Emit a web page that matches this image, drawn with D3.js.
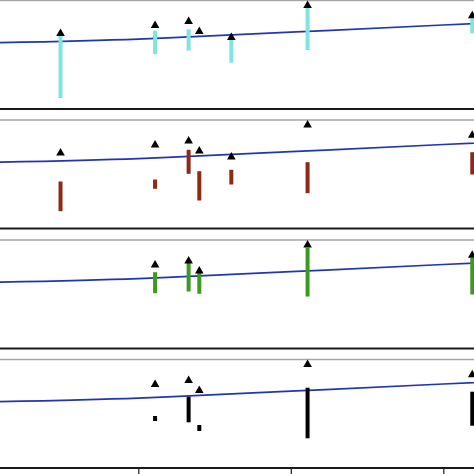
<!DOCTYPE html>
<html><head><meta charset="utf-8">
<script src="https://cdn.jsdelivr.net/npm/d3@7"></script>
<style>html,body{margin:0;padding:0;background:#fff;overflow:hidden}svg{display:block}</style>
</head><body>
<svg id="chart" width="474" height="474"></svg>
<script>
// ---- data ----
const xTickValues = [1990, 2000, 2010];
const trendYears = [1980, 1990, 2000, 2010, 2015];
const trendValues = [6.6, 6.99, 7.68, 8.4, 8.75];

const markerYears = [1984.9, 1991.1, 1993.3, 1994.0, 1996.1, 2001.1, 2011.9];
const markerValues = [7.65, 8.45, 8.85, 7.85, 7.25, 10.45, 9.43];

const panelNames = ["A", "B", "C", "D"];
const panelColors = ["#7fe6df", "#8e2a12", "#3e9a1d", "#000000"];
const panelMarkerIdx = [[0,1,2,3,4,5,6],[0,1,2,3,4,5,6],[1,2,3,5,6],[1,2,3,5,6]];

const barYearsA = [1984.9, 1991.1, 1993.3, 1996.1, 2001.1, 2011.9];
const barHighA  = [7.4, 7.83, 7.97, 6.97, 10.17, 9.07];
const barLowA   = [1.1, 5.47, 5.83, 4.63, 5.9, 7.57];

const barYearsB = [1984.9, 1991.1, 1993.3, 1994.0, 1996.1, 2001.1, 2011.9];
const barHighB  = [4.7, 4.9, 7.87, 5.73, 5.87, 6.63, 7.63];
const barLowB   = [1.73, 3.97, 5.47, 2.8, 4.4, 3.53, 5.4];

const barYearsC = [1991.1, 1993.3, 1994.0, 2001.1, 2011.9];
const barHighC  = [7.63, 8.63, 7.63, 10.07, 9.07];
const barLowC   = [5.53, 5.7, 5.47, 5.2, 5.4];

const barYearsD = [1991.1, 1993.3, 1994.0, 2001.1, 2011.9];
const barHighD  = [5.2, 7.13, 4.3, 8.03, 7.63];
const barLowD   = [4.7, 4.57, 3.7, 2.97, 4.23];

const barSets = [
  [barYearsA, barHighA, barLowA],
  [barYearsB, barHighB, barLowB],
  [barYearsC, barHighC, barLowC],
  [barYearsD, barHighD, barLowD]
];

// ---- layout ----
const svg = d3.select("#chart");
const panelTops = [0.5, 120, 240, 359.5];
const panelH = 108.5;

const x = d3.scaleLinear().domain([1980, 2020]).range([-14.2, 595.8]);

panelNames.forEach((name, p) => {
  const top = panelTops[p];
  const y = d3.scaleLinear().domain([0, 10.85]).range([top + panelH, top]);
  const g = svg.append("g").attr("class", "panel-" + name);

  // top spine (gray)
  g.append("line")
    .attr("x1", 0).attr("x2", 474)
    .attr("y1", top).attr("y2", top)
    .attr("stroke", "#a6a6a6").attr("stroke-width", 1.6);

  // trend line
  const line = d3.line().curve(d3.curveNatural).x((d, i) => x(trendYears[i])).y(d => y(d));
  g.append("path").datum(trendValues)
    .attr("d", line)
    .attr("fill", "none").attr("stroke", "#1f35b8").attr("stroke-width", 1.7);

  // bars
  const [yrs, hi, lo] = barSets[p];
  g.selectAll("rect.bar").data(yrs).enter().append("rect")
    .attr("class", "bar")
    .attr("x", d => x(d) - 2)
    .attr("width", 4)
    .attr("y", (d, i) => y(hi[i]))
    .attr("height", (d, i) => y(lo[i]) - y(hi[i]))
    .attr("fill", panelColors[p]);

  // triangles
  const tri = (cx, cy) => `M${cx},${cy - 4}L${cx + 4.3},${cy + 3.5}L${cx - 4.3},${cy + 3.5}Z`;
  g.selectAll("path.mk").data(panelMarkerIdx[p]).enter().append("path")
    .attr("class", "mk")
    .attr("d", i => tri(x(markerYears[i]), y(markerValues[i])))
    .attr("fill", "#000");

  // bottom spine (black)
  g.append("line")
    .attr("x1", 0).attr("x2", 474)
    .attr("y1", top + panelH).attr("y2", top + panelH)
    .attr("stroke", "#1a1a1a").attr("stroke-width", 1.8);

  if (p === panelNames.length - 1) {
    const ax = d3.axisBottom(x).tickValues(xTickValues).tickSize(6).tickFormat("");
    const axg = g.append("g").attr("transform", `translate(0,${top + panelH})`).call(ax);
    axg.select(".domain").remove();
    axg.selectAll(".tick line").attr("stroke", "#1a1a1a").attr("stroke-width", 1.2);
  }
});
</script>
</body></html>
